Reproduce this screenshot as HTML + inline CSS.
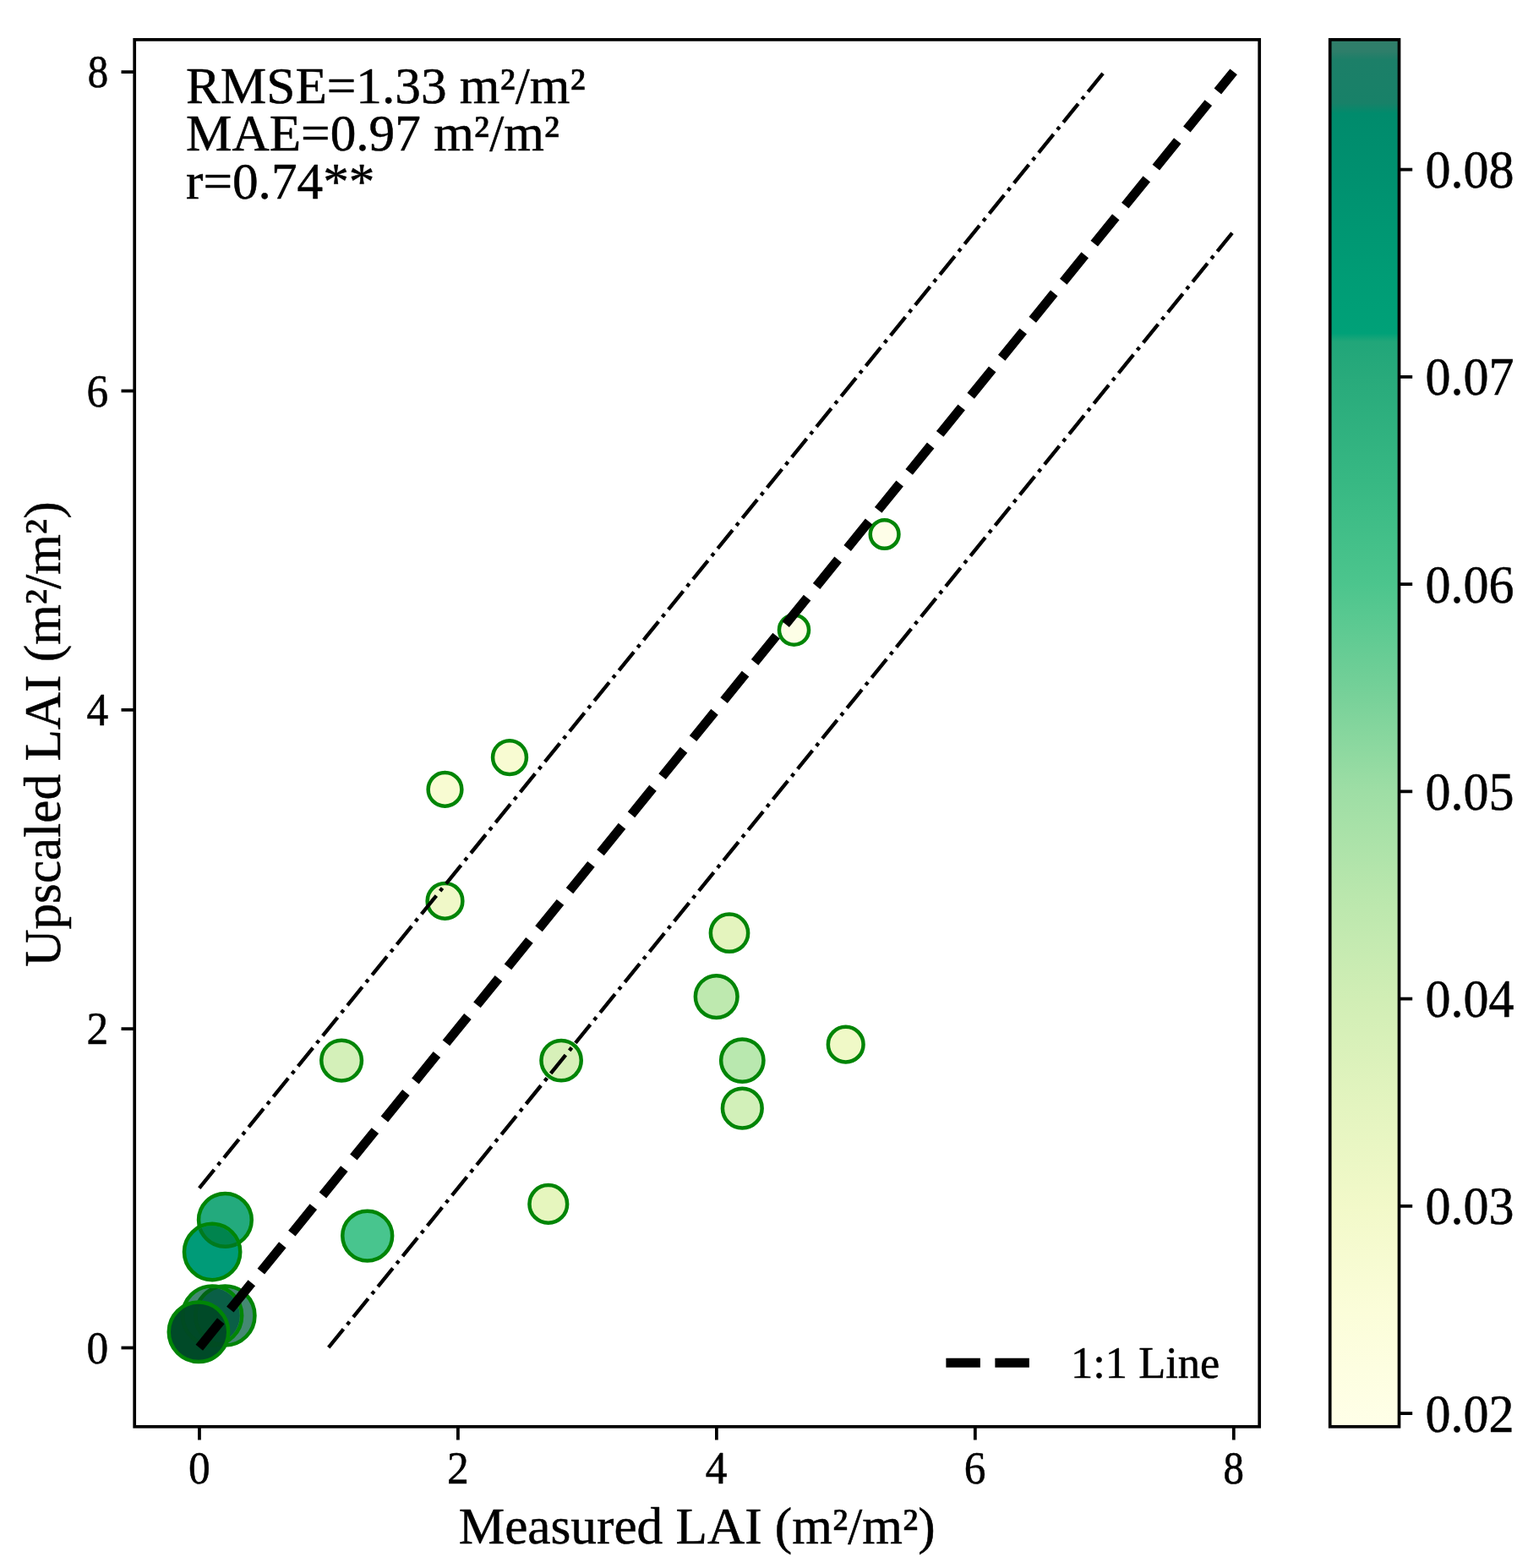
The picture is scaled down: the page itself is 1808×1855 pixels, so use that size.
<!DOCTYPE html>
<html lang="en"><head><meta charset="utf-8"><title>Upscaled LAI vs Measured LAI</title>
<style>html,body{margin:0;padding:0;background:#fff}body{width:1808px;height:1855px;overflow:hidden}svg{display:block}text{font-family:'Liberation Serif', serif;fill:#000}</style>
</head><body>
<svg width="1808" height="1855" viewBox="0 0 1808 1855" role="img" aria-label="Scatter plot of upscaled LAI against measured LAI">
<rect width="1808" height="1855" fill="#ffffff"/>
<defs><linearGradient id="cb" x1="0" y1="1687.8" x2="0" y2="46.9" gradientUnits="userSpaceOnUse">
<stop offset="0.0000" stop-color="rgb(255,255,232)"/>
<stop offset="0.0843" stop-color="rgb(251,253,217)"/>
<stop offset="0.1590" stop-color="rgb(242,249,201)"/>
<stop offset="0.2338" stop-color="rgb(227,244,191)"/>
<stop offset="0.3085" stop-color="rgb(209,238,181)"/>
<stop offset="0.3832" stop-color="rgb(186,231,173)"/>
<stop offset="0.4579" stop-color="rgb(158,222,165)"/>
<stop offset="0.5327" stop-color="rgb(116,208,152)"/>
<stop offset="0.6074" stop-color="rgb(76,197,141)"/>
<stop offset="0.6821" stop-color="rgb(55,184,131)"/>
<stop offset="0.7569" stop-color="rgb(40,170,123)"/>
<stop offset="0.7823" stop-color="rgb(33,166,121)"/>
<stop offset="0.7883" stop-color="rgb(0,161,120)"/>
<stop offset="0.8316" stop-color="rgb(0,156,117)"/>
<stop offset="0.9063" stop-color="rgb(0,144,111)"/>
<stop offset="0.9467" stop-color="rgb(0,139,108)"/>
<stop offset="0.9542" stop-color="rgb(24,129,104)"/>
<stop offset="0.9855" stop-color="rgb(28,127,104)"/>
<stop offset="0.9915" stop-color="rgb(46,126,106)"/>
<stop offset="1.0000" stop-color="rgb(48,126,106)"/>
</linearGradient>
<clipPath id="cB"><circle cx="251.1" cy="1481.0" r="30.90"/></clipPath>
<clipPath id="cE"><circle cx="251.1" cy="1556.5" r="32.80"/></clipPath>
<clipPath id="cD"><circle cx="235.0" cy="1575.8" r="33.00"/></clipPath>
</defs>
<g stroke="#008506" stroke-width="4.500">
<circle cx="1046.6" cy="632.0" r="16.85" fill="rgb(254,254,232)"/>
<circle cx="939.5" cy="745.2" r="17.55" fill="rgb(253,254,230)"/>
<circle cx="603.0" cy="896.1" r="19.95" fill="rgb(248,251,210)"/>
<circle cx="526.5" cy="933.9" r="19.85" fill="rgb(248,251,210)"/>
<circle cx="526.5" cy="1065.9" r="20.85" fill="rgb(240,248,200)"/>
<circle cx="863.0" cy="1103.7" r="22.15" fill="rgb(228,244,190)"/>
<circle cx="847.7" cy="1179.1" r="24.85" fill="rgb(190,233,175)"/>
<circle cx="404.1" cy="1254.6" r="23.85" fill="rgb(212,240,185)"/>
<circle cx="664.1" cy="1254.6" r="23.65" fill="rgb(215,240,185)"/>
<circle cx="878.3" cy="1254.6" r="25.15" fill="rgb(185,232,175)"/>
<circle cx="1000.7" cy="1235.7" r="20.85" fill="rgb(240,249,199)"/>
<circle cx="878.3" cy="1311.2" r="23.35" fill="rgb(210,240,185)"/>
<circle cx="648.8" cy="1424.4" r="22.35" fill="rgb(230,246,190)"/>
<circle cx="434.7" cy="1462.1" r="29.45" fill="rgb(72,197,142)"/>
<circle cx="266.4" cy="1443.3" r="31.35" fill="rgb(35,170,125)"/>
<circle cx="251.1" cy="1481.0" r="33.15" fill="rgb(0,155,120)" stroke="none"/>
<g clip-path="url(#cB)"><circle cx="266.4" cy="1443.3" r="31.35" fill="rgb(0,132,78)" stroke="#007a1e"/></g>
<circle cx="251.1" cy="1481.0" r="33.15" fill="none" stroke="#008506"/>
<circle cx="266.4" cy="1556.5" r="35.05" fill="rgb(68,137,114)"/>
<circle cx="251.1" cy="1556.5" r="35.05" fill="rgb(68,137,114)" stroke="none"/>
<g clip-path="url(#cE)"><circle cx="266.4" cy="1556.5" r="35.05" fill="rgb(10,95,70)" stroke="#006414"/></g>
<circle cx="251.1" cy="1556.5" r="35.05" fill="none" stroke="#008506"/>
<circle cx="235.0" cy="1575.8" r="35.25" fill="rgb(0,74,40)" stroke="none"/>
<g clip-path="url(#cD)" opacity="0.2"><circle cx="251.1" cy="1556.5" r="35.05" fill="none" stroke="#00500a"/><circle cx="266.4" cy="1556.5" r="35.05" fill="none" stroke="#00500a"/></g>
<circle cx="235.0" cy="1575.8" r="35.25" fill="none" stroke="#008506"/>
</g>
<g fill="none" stroke="#000">
<line x1="235.80" y1="1594.20" x2="1459.64" y2="84.84" stroke-width="10.94" stroke-dasharray="40.48 17.50"/>
<line x1="235.80" y1="1405.53" x2="1306.66" y2="84.84" stroke-width="4.38" stroke-dasharray="28.00 7.00 4.38 7.00"/>
<line x1="388.78" y1="1594.20" x2="1459.64" y2="273.51" stroke-width="4.38" stroke-dasharray="28.00 7.00 4.38 7.00"/>
<line x1="1119.4" y1="1612.2" x2="1224.4" y2="1612.2" stroke-width="10.94" stroke-dasharray="40.48 17.50"/>
</g>
<g stroke="#000" stroke-width="3.80" fill="none">
<line x1="235.95" y1="1687.80" x2="235.95" y2="1703.50"/>
<line x1="159.20" y1="1594.50" x2="143.50" y2="1594.50"/>
<line x1="541.91" y1="1687.80" x2="541.91" y2="1703.50"/>
<line x1="159.20" y1="1217.16" x2="143.50" y2="1217.16"/>
<line x1="847.87" y1="1687.80" x2="847.87" y2="1703.50"/>
<line x1="159.20" y1="839.82" x2="143.50" y2="839.82"/>
<line x1="1153.83" y1="1687.80" x2="1153.83" y2="1703.50"/>
<line x1="159.20" y1="462.48" x2="143.50" y2="462.48"/>
<line x1="1459.79" y1="1687.80" x2="1459.79" y2="1703.50"/>
<line x1="159.20" y1="85.14" x2="143.50" y2="85.14"/>
<line x1="1655.50" y1="1672.10" x2="1671.20" y2="1672.10"/>
<line x1="1655.50" y1="1426.85" x2="1671.20" y2="1426.85"/>
<line x1="1655.50" y1="1181.60" x2="1671.20" y2="1181.60"/>
<line x1="1655.50" y1="936.35" x2="1671.20" y2="936.35"/>
<line x1="1655.50" y1="691.10" x2="1671.20" y2="691.10"/>
<line x1="1655.50" y1="445.85" x2="1671.20" y2="445.85"/>
<line x1="1655.50" y1="200.60" x2="1671.20" y2="200.60"/>
</g>
<rect x="1573.70" y="46.90" width="81.80" height="1640.90" fill="url(#cb)" stroke="#000" stroke-width="3.70"/>
<rect x="159.20" y="46.90" width="1331.00" height="1640.90" fill="none" stroke="#000" stroke-width="3.70"/>
<g font-size="52.50" stroke="#000" stroke-width="0.50" stroke-linejoin="round">
<text transform="translate(235.80 1755.20) scale(0.980 1.035)" text-anchor="middle">0</text>
<text transform="translate(128.20 1612.60) scale(0.980 1.035)" text-anchor="end">0</text>
<text transform="translate(541.76 1755.20) scale(0.980 1.035)" text-anchor="middle">2</text>
<text transform="translate(128.20 1235.26) scale(0.980 1.035)" text-anchor="end">2</text>
<text transform="translate(847.72 1755.20) scale(0.980 1.035)" text-anchor="middle">4</text>
<text transform="translate(128.20 857.92) scale(0.980 1.035)" text-anchor="end">4</text>
<text transform="translate(1153.68 1755.20) scale(0.980 1.035)" text-anchor="middle">6</text>
<text transform="translate(128.20 480.58) scale(0.980 1.035)" text-anchor="end">6</text>
<text transform="translate(1459.64 1755.20) scale(0.930 1.035)" text-anchor="middle">8</text>
<text transform="translate(128.20 103.24) scale(0.930 1.035)" text-anchor="end">8</text>
<text transform="translate(1267.00 1630.30)">1:1 Line</text>
</g>
<g font-size="61.25" stroke="#000" stroke-width="0.50" stroke-linejoin="round">
<text transform="translate(1686.40 1693.50) scale(0.980 1.035)">0.02</text>
<text transform="translate(1686.40 1448.25) scale(0.980 1.035)">0.03</text>
<text transform="translate(1686.40 1203.00) scale(0.980 1.035)">0.04</text>
<text transform="translate(1686.40 957.75) scale(0.980 1.035)">0.05</text>
<text transform="translate(1686.40 712.50) scale(0.980 1.035)">0.06</text>
<text transform="translate(1686.40 467.25) scale(0.980 1.035)">0.07</text>
<text transform="translate(1686.40 222.00) scale(0.980 1.035)">0.08</text>
<text transform="translate(220.00 122.30)">RMSE=1.33 m²/m²</text>
<text transform="translate(220.00 178.30)">MAE=0.97 m²/m²</text>
<text transform="translate(220.00 234.60)">r=0.74**</text>
<text transform="translate(824.70 1826.40)" text-anchor="middle">Measured LAI (m²/m²)</text>
<text transform="translate(70.80 868.60) rotate(-90)" text-anchor="middle">Upscaled LAI (m²/m²)</text>
</g>
</svg></body></html>
